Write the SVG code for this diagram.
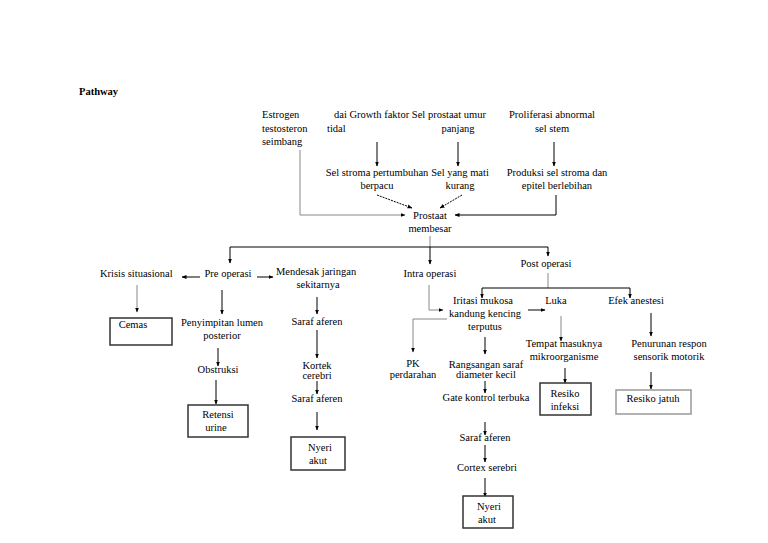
<svg xmlns="http://www.w3.org/2000/svg" width="768" height="543" viewBox="0 0 768 543">
<defs>
<marker id="a" viewBox="0 0 10 10" refX="9" refY="5" markerWidth="5" markerHeight="5" orient="auto"><path d="M0,1 L10,5 L0,9z" fill="#000"/></marker>
<style>
text{font-family:"Liberation Serif","Times New Roman",serif;font-size:10.5px;fill:#000;text-anchor:middle}
.l{text-anchor:start}
.c line,.c path{stroke:#000;stroke-width:1;fill:none}
.c .e{marker-end:url(#a)}
.c .g{stroke:#888}
.b{fill:#fff;stroke:#333;stroke-width:1.5}
</style>
</defs>
<rect width="768" height="543" fill="#fff"/>
<text class="l" x="79" y="95" style="font-weight:bold">Pathway</text>
<g class="c">
<path class="e g" d="M300,150 V215 H405"/>
<line class="e" x1="377" y1="142" x2="377" y2="166"/>
<line class="e" x1="458" y1="142" x2="458" y2="166"/>
<line class="e" x1="554" y1="142" x2="554" y2="166"/>
<line class="e" x1="377" y1="195" x2="412" y2="208" stroke-dasharray="2,1"/>
<line class="e" x1="462" y1="195" x2="440" y2="208" stroke-dasharray="2,1"/>
<path class="e" d="M556,195 V215 H455"/>
<line class="g" x1="430" y1="236" x2="430" y2="247"/>
<path d="M230,247 H548"/>
<line class="e" x1="230" y1="247" x2="230" y2="263"/>
<line class="e" x1="430" y1="247" x2="430" y2="264"/>
<line class="e" x1="548" y1="247" x2="548" y2="256"/>
<line class="e" x1="200" y1="277" x2="182" y2="277"/>
<line class="e" x1="257" y1="277" x2="273" y2="277"/>
<line class="e g" x1="137" y1="285" x2="137" y2="312"/>
<line class="e" x1="222" y1="290" x2="222" y2="314"/>
<line class="e" x1="218" y1="348" x2="218" y2="366"/>
<line class="e" x1="216" y1="380" x2="216" y2="404"/>
<line class="e" x1="317" y1="297" x2="317" y2="314"/>
<line class="e" x1="317" y1="330" x2="317" y2="358"/>
<line class="e" x1="317" y1="381" x2="317" y2="394"/>
<line class="e" x1="317" y1="412" x2="317" y2="430"/>
<path class="e g" d="M429,285 V310 H443"/>
<line class="e" x1="528" y1="310" x2="545" y2="310"/>
<line class="g" x1="548" y1="273" x2="548" y2="288"/>
<path d="M482,288 H630"/>
<line class="e" x1="482" y1="288" x2="482" y2="298"/>
<line class="e" x1="630" y1="288" x2="630" y2="298"/>
<path class="e g" d="M447,319 H413 V352"/>
<line class="e" x1="485" y1="337" x2="485" y2="354"/>
<line class="e" x1="485" y1="381" x2="485" y2="393"/>
<line class="e" x1="485" y1="422" x2="485" y2="435"/>
<line class="e" x1="485" y1="445" x2="485" y2="462"/>
<line class="e" x1="485" y1="478" x2="485" y2="497"/>
<line class="e g" x1="561" y1="316" x2="561" y2="341"/>
<line class="e" x1="565" y1="368" x2="565" y2="383"/>
<line class="e" x1="651" y1="313" x2="651" y2="336"/>
<line class="e" x1="651" y1="372" x2="651" y2="389"/>
</g>
<g id="estrogen"><text class="l" x="262" y="118">Estrogen</text><text class="l" x="262" y="132">testosteron</text><text class="l" x="262" y="145">seimbang</text></g>
<g id="growth"><text class="l" x="334" y="118">dai Growth faktor Sel prostaat umur</text><text class="l" x="327" y="132">tidal</text><text x="458" y="132">panjang</text></g>
<g id="proliferasi"><text x="552" y="118">Proliferasi abnormal</text><text x="552" y="132">sel stem</text></g>
<g id="stroma"><text x="377" y="176">Sel stroma pertumbuhan</text><text x="377" y="189">berpacu</text></g>
<g id="mati"><text x="460" y="176">Sel yang mati</text><text x="460" y="189">kurang</text></g>
<g id="produksi"><text x="557" y="176">Produksi sel stroma dan</text><text x="557" y="189">epitel berlebihan</text></g>
<g id="prostaat"><text x="430" y="219">Prostaat</text><text x="430" y="232">membesar</text></g>
<g id="pre"><text x="228" y="277">Pre operasi</text></g>
<g id="krisis"><text class="l" x="100" y="277">Krisis situasional</text></g>
<g id="mendesak"><text class="l" x="276" y="275">Mendesak jaringan</text><text x="318" y="288">sekitarnya</text></g>
<g id="intra"><text x="430" y="277">Intra operasi</text></g>
<g id="post"><text x="546" y="267">Post operasi</text></g>
<g id="cemas"><rect class="b" x="110" y="318" width="62" height="27"/><text x="133" y="328">Cemas</text></g>
<g id="penyimpitan"><text x="222" y="326">Penyimpitan lumen</text><text x="222" y="339">posterior</text></g>
<g id="obstruksi"><text x="218" y="373">Obstruksi</text></g>
<g id="retensi"><rect class="b" x="188" y="405" width="60" height="32"/><text x="218" y="418">Retensi</text><text x="216" y="431">urine</text></g>
<g id="saraf1"><text x="317" y="325">Saraf aferen</text></g>
<g id="kortek"><text x="317" y="369">Kortek</text><text x="317" y="379">cerebri</text></g>
<g id="saraf2"><text x="317" y="402">Saraf aferen</text></g>
<g id="nyeri1"><rect class="b" x="291" y="437" width="54" height="33"/><text x="320" y="451">Nyeri</text><text x="318" y="464">akut</text></g>
<g id="iritasi"><text x="483" y="304">Iritasi mukosa</text><text x="485" y="317">kandung kencing</text><text x="485" y="330">terputus</text></g>
<g id="luka"><text x="556" y="304">Luka</text></g>
<g id="efek"><text x="636" y="304">Efek anestesi</text></g>
<g id="pk"><text x="413" y="367">PK</text><text x="413" y="378">perdarahan</text></g>
<g id="rangsangan"><text x="486" y="368">Rangsangan saraf</text><text x="486" y="378">diameter kecil</text></g>
<g id="gate"><text x="486" y="401">Gate kontrol terbuka</text></g>
<g id="saraf3"><text x="485" y="441">Saraf aferen</text></g>
<g id="cortex"><text x="487" y="471">Cortex serebri</text></g>
<g id="nyeri2"><rect class="b" x="463" y="496" width="50" height="32"/><text x="489" y="510">Nyeri</text><text x="487" y="523">akut</text></g>
<g id="tempat"><text x="564" y="347">Tempat masuknya</text><text x="564" y="360">mikroorganisme</text></g>
<g id="infeksi"><rect class="b" x="540" y="383" width="51" height="32"/><text x="565" y="397">Resiko</text><text x="565" y="410">infeksi</text></g>
<g id="penurunan"><text x="669" y="347">Penurunan respon</text><text x="669" y="360">sensorik motorik</text></g>
<g id="jatuh"><rect class="b" x="616" y="390" width="75" height="24" style="stroke:#999"/><text x="653" y="402">Resiko jatuh</text></g>
</svg>
